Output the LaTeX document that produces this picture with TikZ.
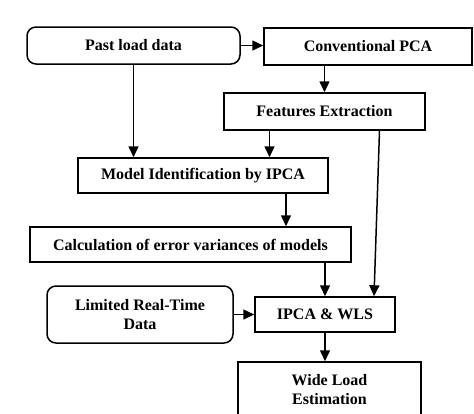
\documentclass[tikz,border=0pt]{standalone}
\usepackage{fontspec}
\setmainfont{Liberation Serif}
\usetikzlibrary{arrows.meta, calc}

\begin{document}
\begin{tikzpicture}[x=1pt, y=-1pt, line width=1.5pt,
	font=\bfseries\fontsize{16}{19}\selectfont,
	blk/.style={draw, rectangle, align=center, inner sep=0pt},
	rblk/.style={blk, rounded corners=9pt},
	flow/.style={-{Triangle[length=11pt, width=10pt]}}]
	\useasboundingbox (0,0) rectangle (474,413);
	\clip (0,0) rectangle (474,413);
	% boxes
	\node [rblk, minimum width=213pt, minimum height=37pt] (past) at (133.5,45.5) {Past load data};
	\node [blk, minimum width=208pt, minimum height=37pt] (pca) at (368,46.5) {Conventional PCA};
	\node [blk, minimum width=201pt, minimum height=37pt] (feat) at (324.5,111.5) {Features Extraction};
	\node [blk, minimum width=250pt, minimum height=35pt] (model) at (203,175.5) {Model Identification by IPCA};
	\node [blk, minimum width=321pt, minimum height=35pt] (calc) at (190.5,244.5) {Calculation of error variances of models};
	\node [blk, minimum width=140pt, minimum height=35pt] (ipca) at (325,314.5) {IPCA \& WLS};
	\node [rblk, minimum width=186pt, minimum height=57pt] (live) at (140,314.5) {Limited Real-Time\\Data};
	\node [blk, minimum width=183pt, minimum height=56pt] (wide) at (329.5,390) {Wide Load\\Estimation};
	% taps
	\coordinate (F1) at ($(feat.south)+(-55,0)$);
	\coordinate (F2) at ($(feat.south)+(55,0)$);
	\coordinate (M1) at ($(model.south)+(83,0)$);
	\coordinate (I1) at ($(ipca.north)+(49,0)$);
	% arrows
	\draw [flow] (past.east) -- (past.east -| pca.west);
	\draw [flow] (pca.south -| feat.north) -- (feat.north);
	\draw [flow] (past.south) -- (past.south |- model.north);
	\draw [flow] (F1) -- (F1 |- model.north);
	\draw [flow] (M1) -- (M1 |- calc.north);
	\draw [flow] (ipca.north |- calc.south) -- (ipca.north);
	\draw [flow] (F2) -- (I1);
	\draw [flow] (live.east) -- (live.east -| ipca.west);
	\draw [flow] (ipca.south) -- (ipca.south |- wide.north);
\end{tikzpicture}
\end{document}
